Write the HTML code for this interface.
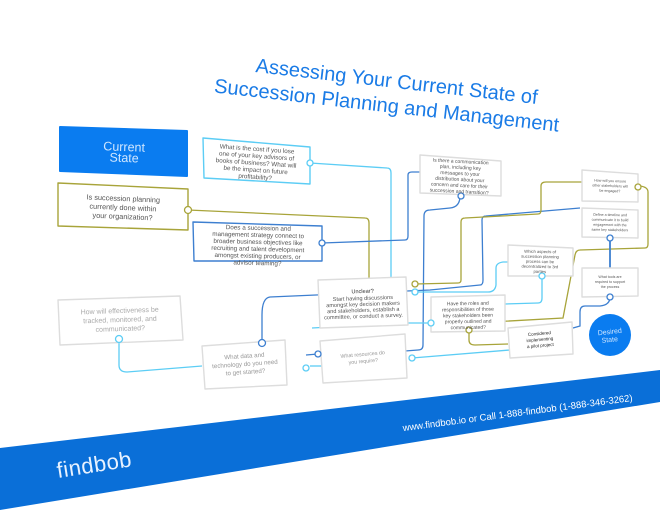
<!DOCTYPE html>
<html><head><meta charset="utf-8"><style>
html,body{margin:0;padding:0;background:#fff;width:660px;height:510px;overflow:hidden}
svg{display:block}
text{font-family:"Liberation Sans",sans-serif}
</style></head><body>
<svg width="660" height="510" viewBox="0 0 660 510" xmlns="http://www.w3.org/2000/svg">
<!-- title -->
<text x="396" y="88" font-size="20" fill="#1a7be6" text-anchor="middle" transform="rotate(6.5 396 88)">Assessing Your Current State of</text>
<text x="386" y="112" font-size="20" fill="#1a7be6" text-anchor="middle" transform="rotate(6.5 386 112)">Succession Planning and Management</text>

<!-- connectors -->
<g fill="none" stroke-width="1.3">
<path d="M310,163 L387,168 Q391,168 391,173 L391,285" stroke="#5ccdf5"/>
<path d="M188,210 L365,218 Q369,218 369,223 L369,285" stroke="#a8a43a"/>
<path d="M322,243 L405,240 Q408,240 408,236 L408,175 Q408,172 412,172 L420,172" stroke="#3d7fd0"/>
<path d="M262,315 L262,358 M262,315 Q262,298 270,297 L430,290 L480,285 Q483,285 483,280 L482,220 Q482,216 486,216 L580,208" stroke="#3d7fd0"/>
<path d="M460,196 Q460,207 450,208 L430,210 Q424,210 424,216 L423,345 Q423,350 418,350 L405,351" stroke="#3d7fd0"/>
<path d="M415,284 L458,283 Q461,283 461,280 L461,222 Q461,218 465,218 L538,214 Q541,214 541,210 L541,186 Q541,182 546,182 L582,182" stroke="#a8a43a"/>
<path d="M415,292 L488,292 Q495,292 496,285 L496,268 Q496,263 503,262 L508,262" stroke="#5ccdf5"/>
<path d="M437,325 L563,318 L575,255 Q576,250 580,250 L645,248 Q648,248 648,244 L648,192 Q648,187 640,186" stroke="#a8a43a"/>
<path d="M505,304 L538,303 Q542,303 542,298 L542,276" stroke="#5ccdf5"/>
<path d="M610,238 L610,268" stroke="#3d7fd0" stroke-width="1.8"/>
<path d="M610,297 Q610,305 600,306 L585,306 Q580,306 580,312 L580,326 L573,328" stroke="#3d7fd0"/>
<path d="M431,323 L405,323 L330,327 L312,328" stroke="#5ccdf5"/>
<path d="M469,330 L469,340 Q469,345 475,345 L508,344" stroke="#a8a43a"/>
<path d="M412,358 L510,350" stroke="#5ccdf5"/>
<path d="M119,339 L119,365 Q119,372 127,372 L202,366" stroke="#5ccdf5"/>
<path d="M310,366 L322,366" stroke="#5ccdf5"/>
<path d="M318,354 L306,355" stroke="#3d7fd0"/>
</g>

<!-- boxes -->
<polygon points="60,127 187,131 187,176 60,171" fill="#0a7cf0" stroke="#0a7cf0" stroke-width="2" stroke-linejoin="round"/>
<text x="124" y="151" font-size="12.5" fill="#cfe6ff" text-anchor="middle" transform="rotate(2 124 151)">Current</text>
<text x="124" y="162" font-size="12.5" fill="#cfe6ff" text-anchor="middle" transform="rotate(2 124 162)">State</text>

<g fill="#fff" stroke-width="1.4" stroke-linejoin="round">
<polygon points="203,138 310,147 310,184 204,178" stroke="#5ccdf5"/>
<polygon points="58,183 188,189 188,230 58,226" stroke="#a8a43a"/>
<polygon points="193,222 322,226 322,261 194,261" stroke="#3d7fd0"/>
<polygon points="420,155 501,161 501,196 420,193" stroke="#ddd"/>
<polygon points="318,280 406,277 408,325 320,328" stroke="#ddd"/>
<polygon points="58,300 180,296 183,340 60,345" stroke="#ddd"/>
<polygon points="202,346 285,340 287,385 205,389" stroke="#ddd"/>
<polygon points="320,341 405,334 407,378 323,383" stroke="#ddd"/>
<polygon points="431,297 505,295 505,331 431,332" stroke="#ddd"/>
<polygon points="508,245 573,248 573,276 508,276" stroke="#ddd"/>
<polygon points="508,328 572,322 573,354 510,358" stroke="#ddd"/>
<polygon points="582,170 638,174 638,202 582,201" stroke="#ddd"/>
<polygon points="582,208 638,210 638,238 582,237" stroke="#ddd"/>
<polygon points="582,268 638,268 638,296 582,297" stroke="#ddd"/>
</g>

<!-- circles -->
<g fill="#fff" stroke-width="1.3">
<circle cx="310" cy="163" r="3" stroke="#5ccdf5"/>
<circle cx="188" cy="210" r="3.5" stroke="#a8a43a"/>
<circle cx="322" cy="243" r="3" stroke="#3d7fd0"/>
<circle cx="461" cy="196" r="3" stroke="#3d7fd0"/>
<circle cx="415" cy="284" r="3" stroke="#a8a43a"/>
<circle cx="415" cy="292" r="3" stroke="#5ccdf5"/>
<circle cx="542" cy="276" r="3" stroke="#5ccdf5"/>
<circle cx="638" cy="187" r="3" stroke="#a8a43a"/>
<circle cx="610" cy="238" r="3" stroke="#3d7fd0"/>
<circle cx="610" cy="297" r="3" stroke="#3d7fd0"/>
<circle cx="431" cy="323" r="3" stroke="#5ccdf5"/>
<circle cx="469" cy="330" r="3" stroke="#a8a43a"/>
<circle cx="412" cy="358" r="3" stroke="#5ccdf5"/>
<circle cx="119" cy="339" r="3.5" stroke="#5ccdf5"/>
<circle cx="262" cy="343" r="3.5" stroke="#3d7fd0"/>
<circle cx="318" cy="354" r="3" stroke="#3d7fd0"/>
<circle cx="306" cy="368" r="3" stroke="#5ccdf5"/>
</g>

<circle cx="610" cy="335" r="21" fill="#0a7cf0"/>
<text x="610" y="334" font-size="7" fill="#cfe6ff" text-anchor="middle" transform="rotate(-6 610 334)">Desired</text>
<text x="610" y="342" font-size="7" fill="#cfe6ff" text-anchor="middle" transform="rotate(-6 610 342)">State</text>

<!-- box texts -->
<g font-size="6.3" fill="#555" text-anchor="middle">
<g transform="rotate(4 257 150)">
<text x="257" y="151">What is the cost if you lose</text>
<text x="257" y="158">one of your key advisors of</text>
<text x="257" y="165">books of business? What will</text>
<text x="257" y="172">be the impact on future</text>
<text x="257" y="179">profitability?</text></g>
<g transform="rotate(2.5 123 206)" font-size="7.3">
<text x="123" y="201">Is succession planning</text>
<text x="123" y="210">currently done within</text>
<text x="123" y="219">your organization?</text></g>
<g transform="rotate(1.5 258 242)">
<text x="258" y="230">Does a succession and</text>
<text x="258" y="237">management strategy connect to</text>
<text x="258" y="244">broader business objectives like</text>
<text x="258" y="251">recruiting and talent development</text>
<text x="258" y="258">amongst existing producers, or</text>
<text x="258" y="265">advisor teaming?</text></g>
<g transform="rotate(3 460 175)" font-size="5">
<text x="460" y="163">Is there a communication</text>
<text x="460" y="169">plan, including key</text>
<text x="460" y="175">messages to your</text>
<text x="460" y="181">distribution about your</text>
<text x="460" y="187">concern and care for their</text>
<text x="460" y="193">succession and transition?</text></g>
<g transform="rotate(-2 363 303)" font-size="5.6">
<text x="363" y="293" fill="#333">Unclear?</text>
<text x="363" y="300">Start having discussions</text>
<text x="363" y="306">amongst key decision makers</text>
<text x="363" y="312">and stakeholders, establish a</text>
<text x="363" y="318">committee, or conduct a survey.</text></g>
<g transform="rotate(-2 120 320)" font-size="7" fill="#aaa">
<text x="120" y="313">How will effectiveness be</text>
<text x="120" y="322">tracked, monitored, and</text>
<text x="120" y="331">communicated?</text></g>
<g transform="rotate(-4 245 365)" font-size="6.2" fill="#999">
<text x="245" y="358">What data and</text>
<text x="245" y="366">technology do you need</text>
<text x="245" y="374">to get started?</text></g>
<g transform="rotate(-5 363 358)" font-size="5.3" fill="#999">
<text x="363" y="356">What resources do</text>
<text x="363" y="363">you require?</text></g>
<g transform="rotate(-1 468 314)" font-size="5">
<text x="468" y="305">Have the roles and</text>
<text x="468" y="311">responsibilities of those</text>
<text x="468" y="317">key stakeholders been</text>
<text x="468" y="323">properly outlined and</text>
<text x="468" y="329">communicated?</text></g>
<g transform="rotate(1 540 260)" font-size="4.2">
<text x="540" y="253">Which aspects of</text>
<text x="540" y="258">succession planning</text>
<text x="540" y="263">process can be</text>
<text x="540" y="268">decentralized to 3rd</text>
<text x="540" y="273">parties</text></g>
<g transform="rotate(-5 540 341)" font-size="4.5" fill="#222">
<text x="540" y="335">Considered</text>
<text x="540" y="341">implementing</text>
<text x="540" y="347">a pilot project</text></g>
<g transform="rotate(2 610 187)" font-size="3.6">
<text x="610" y="182">How will you ensure</text>
<text x="610" y="187">other stakeholders will</text>
<text x="610" y="192">be engaged?</text></g>
<g transform="rotate(1 610 222)" font-size="3.6">
<text x="610" y="216">Define a timeline and</text>
<text x="610" y="221">communicate it to build</text>
<text x="610" y="226">engagement with the</text>
<text x="610" y="231">same key stakeholders</text></g>
<g transform="rotate(0 610 282)" font-size="3.6">
<text x="610" y="278">What tools are</text>
<text x="610" y="283">required to support</text>
<text x="610" y="288">the process</text></g>
</g>

<!-- footer band -->
<polygon points="0,448 660,370 660,402 0,510" fill="#0a6fd8"/>
<text x="518" y="416" font-size="9.5" fill="#fff" text-anchor="middle" transform="rotate(-7.5 518 416)">www.findbob.io or Call 1-888-findbob (1-888-346-3262)</text>
<text x="58" y="478" font-size="22" fill="#e8f2ff" transform="rotate(-9 58 478)" letter-spacing="0.5">findbob</text>
</svg>
</body></html>
